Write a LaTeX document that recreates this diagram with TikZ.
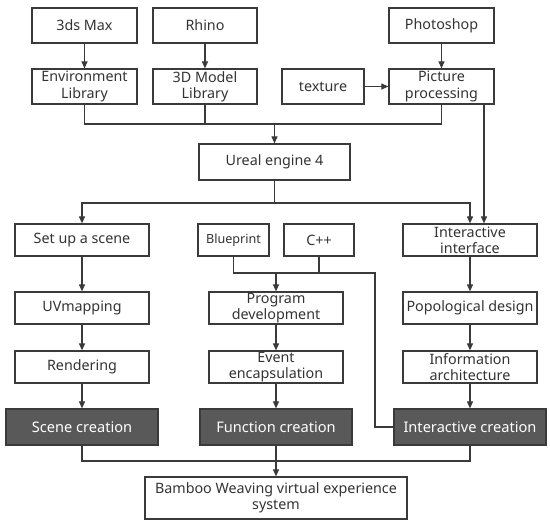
\documentclass[tikz,border=0pt]{standalone}
\usepackage{fontspec}
\setmainfont{Noto Sans}
\usetikzlibrary{arrows.meta}
\definecolor{linegray}{HTML}{3A3A3A}
\definecolor{darkbox}{HTML}{595959}
\tikzset{
    box/.style={draw=linegray, line width=1.2pt, fill=white, minimum height=35pt, inner sep=0pt,
        align=center, font=\fontsize{14.3}{16.3}\selectfont, text=black!80},
    smallbox/.style={box, minimum height=32pt},
    resultbox/.style={box, minimum height=36pt, minimum width=152pt, fill=darkbox,
        text=white, font=\fontsize{14.6}{17}\selectfont},
    link/.style={draw=linegray, line width=1.1pt},
}
\begin{document}
\begin{tikzpicture}[x=1pt, y=-1pt, >={Triangle[length=7pt,width=6pt]}]
    \useasboundingbox (0,0) rectangle (550,525);

    % sources
    \node[box, minimum width=105pt] (max) at (84.5,25.5) {3ds Max};
    \node[box, minimum width=104pt] (rhino) at (205,25.5) {Rhino};
    \node[box, minimum width=105pt] (photo) at (441.5,25.5) {Photoshop};

    \node[box, minimum width=105pt] (envlib) at (84.5,86.5) {Environment\\Library};
    \node[box, minimum width=104pt] (modlib) at (205,86.5) {3D Model\\Library};
    \node[box, minimum width=82pt] (texture) at (323,86.5) {texture};
    \node[box, minimum width=105pt] (pic) at (441.5,86.5) {Picture\\processing};

    \node[box, minimum width=151pt, minimum height=36pt] (ue) at (274.5,162) {Ureal engine 4};

    % three branches
    \node[smallbox, minimum width=134pt] (setup) at (82,240) {Set up a scene};
    \node[smallbox, minimum width=134pt] (uv) at (82,308) {UVmapping};
    \node[smallbox, minimum width=134pt] (render) at (82,367) {Rendering};
    \node[resultbox] (scenec) at (82,427) {Scene creation};

    \node[smallbox, minimum width=71pt, font=\fontsize{12.6}{14}\selectfont] (blue) at (233.5,240) {Blueprint};
    \node[smallbox, minimum width=70pt] (cpp) at (319,240) {C++};
    \node[smallbox, minimum width=134pt] (prog) at (276,308) {Program\\development};
    \node[smallbox, minimum width=134pt] (event) at (276,367) {Event\\encapsulation};
    \node[resultbox] (funcc) at (276,427) {Function creation};

    \node[smallbox, minimum width=134pt] (ui) at (470,240) {Interactive\\interface};
    \node[smallbox, minimum width=134pt] (popo) at (470,308) {Popological design};
    \node[smallbox, minimum width=134pt] (info) at (470,367) {Information\\architecture};
    \node[resultbox] (interc) at (470,427) {Interactive creation};

    \node[box, minimum width=262pt, minimum height=42pt] (bamboo) at (276,498)
        {Bamboo Weaving virtual experience\\system};

    \coordinate (join1) at (274.5,124);
    \coordinate (split) at (274.5,203);
    \coordinate (join2) at (276,273);
    \coordinate (bend) at (375,273);
    \coordinate (join3) at (276,461);

    % connectors
    \draw[link, ->] (max) -- (envlib);
    \draw[link, ->] (rhino) -- (modlib);
    \draw[link, ->] (photo) -- (pic);
    \draw[link, ->] (texture) -- (pic);

    \draw[link] (envlib.south) |- (join1);
    \draw[link] (modlib.south) |- (join1);
    \draw[link] (pic.south) |- (join1);
    \draw[link, ->] (join1) -- (ue.north);
    \draw[link, ->] ([xshift=42.5pt]pic.south) -- ([xshift=14pt]ui.north);

    \draw[link] (ue.south) -- (split);
    \draw[link, ->] (split) -| (setup.north);
    \draw[link, ->] (split) -| (ui.north);

    \draw[link, ->] (setup) -- (uv);
    \draw[link, ->] (uv) -- (render);
    \draw[link, ->] (render) -- (scenec);

    \draw[link] (blue.south) |- (join2);
    \draw[link] (cpp.south) |- (join2);
    \draw[link, ->] (join2) -- (prog.north);
    \draw[link] (cpp.south) |- (bend) |- (interc.west);
    \draw[link, ->] (prog) -- (event);
    \draw[link, ->] (event) -- (funcc);

    \draw[link, ->] (ui) -- (popo);
    \draw[link, ->] (popo) -- (info);
    \draw[link, ->] (info) -- (interc);

    \draw[link] (scenec.south) |- (join3);
    \draw[link] (interc.south) |- (join3);
    \draw[link, ->] (funcc.south) -- (bamboo.north);
\end{tikzpicture}
\end{document}
